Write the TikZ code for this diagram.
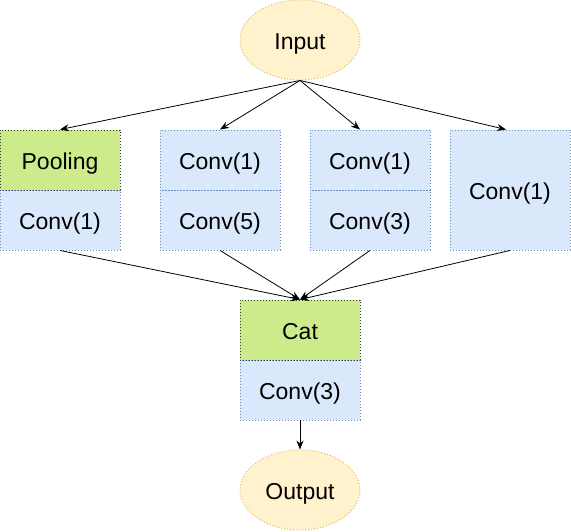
\documentclass[tikz,border=0pt]{standalone}
\usepackage{fontspec}
\setmainfont{Liberation Sans}
\usetikzlibrary{shapes.geometric,arrows.meta}
\definecolor{blfill}{HTML}{DAE8FC}
\definecolor{bldraw}{HTML}{6C8EBF}
\definecolor{grfill}{HTML}{CDEB8B}
\definecolor{grdraw}{HTML}{36393D}
\definecolor{yefill}{HTML}{FFF2CC}
\definecolor{yedraw}{HTML}{D6B656}
\begin{document}
\begin{tikzpicture}[x=1pt,y=-1pt,
  every node/.style={font=\fontsize{23}{27}\selectfont, inner sep=0pt, text=black, text height=22.5pt, text depth=3.5pt},
  dotline/.style={dash pattern=on 1pt off 2pt, line width=0.9pt},
  blbox/.style={rectangle, draw=bldraw, fill=blfill, dotline, minimum width=120pt, minimum height=60pt},
  grbox/.style={rectangle, draw=grdraw, fill=grfill, dotline, minimum width=120pt, minimum height=60pt},
  oval/.style={ellipse, draw=yedraw, fill=yefill, dotline, minimum width=120pt, minimum height=80pt},
  arr/.style={-{Stealth[length=9pt,width=7pt]}, line width=0.8pt, draw=black}
]
\useasboundingbox (0,0) rectangle (571,531);

\node[oval] (in) at (300,40) {Input};

\node[blbox] (p2) at (60,220) {Conv(1)};
\node[grbox] (p1) at (60,160) {Pooling};

\node[blbox] (a2) at (220,220) {Conv(5)};
\node[blbox] (a1) at (220,160) {Conv(1)};

\node[blbox] (b2) at (370,220) {Conv(3)};
\node[blbox] (b1) at (370,160) {Conv(1)};

\node[blbox, minimum height=120pt] (c) at (510,190) {Conv(1)};

\node[blbox] (cv) at (300,390) {Conv(3)};
\node[grbox] (cat) at (300,330) {Cat};

\node[oval] (out) at (300,490) {Output};

\draw[arr] (in.south) -- (p1.north);
\draw[arr] (in.south) -- (a1.north);
\draw[arr] (in.south) -- ([xshift=-10pt]b1.north);
\draw[arr] (in.south) -- ([xshift=-4pt]c.north);

\draw[arr] (p2.south) -- (cat.north);
\draw[arr] (a2.south) -- (cat.north);
\draw[arr] (b2.south) -- (cat.north);
\draw[arr] (c.south) -- (cat.north);

\draw[arr] (cv.south) -- (out.north);
\end{tikzpicture}
\end{document}
